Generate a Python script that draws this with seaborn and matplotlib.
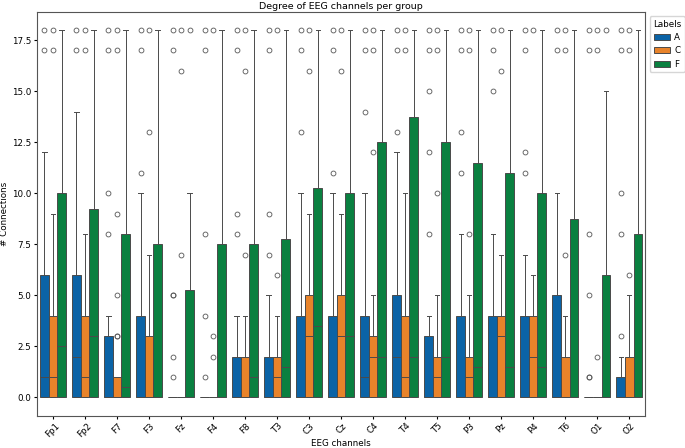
import pandas as pd
import matplotlib
matplotlib.use("Agg")
import matplotlib.pyplot as plt
import seaborn as sns

# EEG channels (x axis) and group labels (hue)
channels = ["Fp1", "Fp2", "F7", "F3", "Fz", "F4", "F8", "T3", "C3", "Cz",
            "C4", "T4", "T5", "P3", "Pz", "P4", "T6", "O1", "O2"]
labels = ["A", "C", "F"]
colors = ["#0b63a6", "#e8832a", "#0a8040"]

# box statistics (lower quartile is 0 everywhere)
a_median = [1, 2, 0, 0, 0, 0, 0, 0, 0, 0, 1, 2, 0, 0, 0, 0, 0, 0, 0]
a_q3 = [6, 6, 3, 4, 0, 0, 2, 2, 4, 4, 4, 5, 3, 4, 4, 4, 5, 0, 1]
a_whisker = [12, 14, 4, 10, 0, 0, 4, 5, 10, 10, 10, 12, 4, 8, 8, 7, 10, 0, 2]
a_outliers = [[17, 18], [17, 18], [8, 10, 17, 18], [11, 17, 18],
              [1, 2, 5, 5, 17, 18], [1, 4, 8, 17, 18], [8, 9, 17, 18],
              [7, 9, 17, 18], [13, 17, 18], [11, 17, 18], [14, 17, 18],
              [13, 17, 18], [8, 12, 15, 17, 18], [11, 13, 17, 18],
              [15, 17, 18], [11, 12, 17, 18], [17, 18], [1, 1, 5, 8, 17, 18],
              [3, 8, 10, 17, 18]]

c_median = [1, 1, 0, 0, 0, 0, 0, 1, 3, 3, 2, 1, 1, 1, 3, 2, 0, 0, 0]
c_q3 = [4, 4, 1, 3, 0, 0, 2, 2, 5, 5, 3, 4, 2, 2, 4, 4, 2, 0, 2]
c_whisker = [9, 8, 1, 7, 0, 0, 4, 4, 9, 9, 5, 10, 5, 5, 7, 6, 4, 0, 5]
c_outliers = [[17, 18], [17, 18], [3, 3, 5, 9, 17, 18], [13, 18],
              [7, 16, 18], [2, 3, 18], [7, 16, 18], [6, 18], [16, 18],
              [16, 18], [12, 17, 18], [17, 18], [10, 17, 18], [8, 17, 18],
              [16, 18], [18], [7, 17, 18], [2, 17, 18], [6, 17, 18]]

f_median = [2.5, 3, 0.5, 0, 0, 0, 1, 1.5, 3.5, 3, 2, 2, 2, 1.5, 1.5, 1.5, 0, 0, 0]
f_q3 = [10, 9.25, 8, 7.5, 5.25, 7.5, 7.5, 7.75, 10.25, 10, 12.5, 13.75,
        12.5, 11.5, 11, 10, 8.75, 6, 8]
f_whisker = [18, 18, 18, 18, 10, 18, 18, 18, 18, 18, 18, 18, 18, 18, 18,
             18, 18, 15, 18]
f_outliers = [[], [], [], [], [18], [], [], [], [], [], [], [], [], [], [],
              [], [], [18], []]


def expand_box(median, q3, whisker, outliers):
    """
    Observations whose quartiles (linear method) give Q1=0, the median, Q3,
    the upper whisker and the outliers read from the chart.
    """
    k = len(outliers) + 1
    values = [0] * (k + 1)
    values += [median] * k
    values += [q3] * k
    values += [whisker] * (k - len(outliers))
    values += list(outliers)
    return values


rows = []
group_stats = {
    "A": (a_median, a_q3, a_whisker, a_outliers),
    "C": (c_median, c_q3, c_whisker, c_outliers),
    "F": (f_median, f_q3, f_whisker, f_outliers),
}
for label in labels:
    med, q3, wh, out = group_stats[label]
    for i, ch in enumerate(channels):
        for v in expand_box(med[i], q3[i], wh[i], out[i]):
            rows.append({"channel": ch, "label": label, "connections": v})
data = pd.DataFrame(rows)

plt.rcParams["font.family"] = ["DejaVu Sans"]
plt.rcParams["font.size"] = 6.3

fig, ax = plt.subplots(figsize=(6.85, 4.48), dpi=100)
fig.subplots_adjust(left=0.054, right=0.942, top=0.974, bottom=0.072)

sns.boxplot(
    data=data,
    x="channel",
    y="connections",
    hue="label",
    order=channels,
    hue_order=labels,
    palette=dict(zip(labels, colors)),
    saturation=1,
    linecolor="#4a4a4a",
    linewidth=0.7,
    fliersize=3.5,
    flierprops=dict(marker="o", markerfacecolor="none",
                    markeredgecolor="#555555", markeredgewidth=0.6),
    ax=ax,
)

ax.set_title("Degree of EEG channels per group", fontsize=6.8, pad=2)
ax.set_xlabel("EEG channels", fontsize=6.3, labelpad=0)
ax.set_ylabel("# Connections", fontsize=6.3, labelpad=2)
ax.tick_params(axis="x", labelrotation=45, labelsize=6.3, length=2.5, pad=1.5)
ax.tick_params(axis="y", labelsize=6.3, length=2.5, pad=1.5)
for spine in ax.spines.values():
    spine.set_linewidth(0.8)
    spine.set_color("#555555")

sns.move_legend(ax, "upper left", bbox_to_anchor=(1.0, 1.0), title="Labels",
                fontsize=6.3, title_fontsize=6.3, borderaxespad=0.5,
                handlelength=1.8, handletextpad=0.5, borderpad=0.4)

fig.savefig("out.png", dpi=100)
plt.close(fig)
